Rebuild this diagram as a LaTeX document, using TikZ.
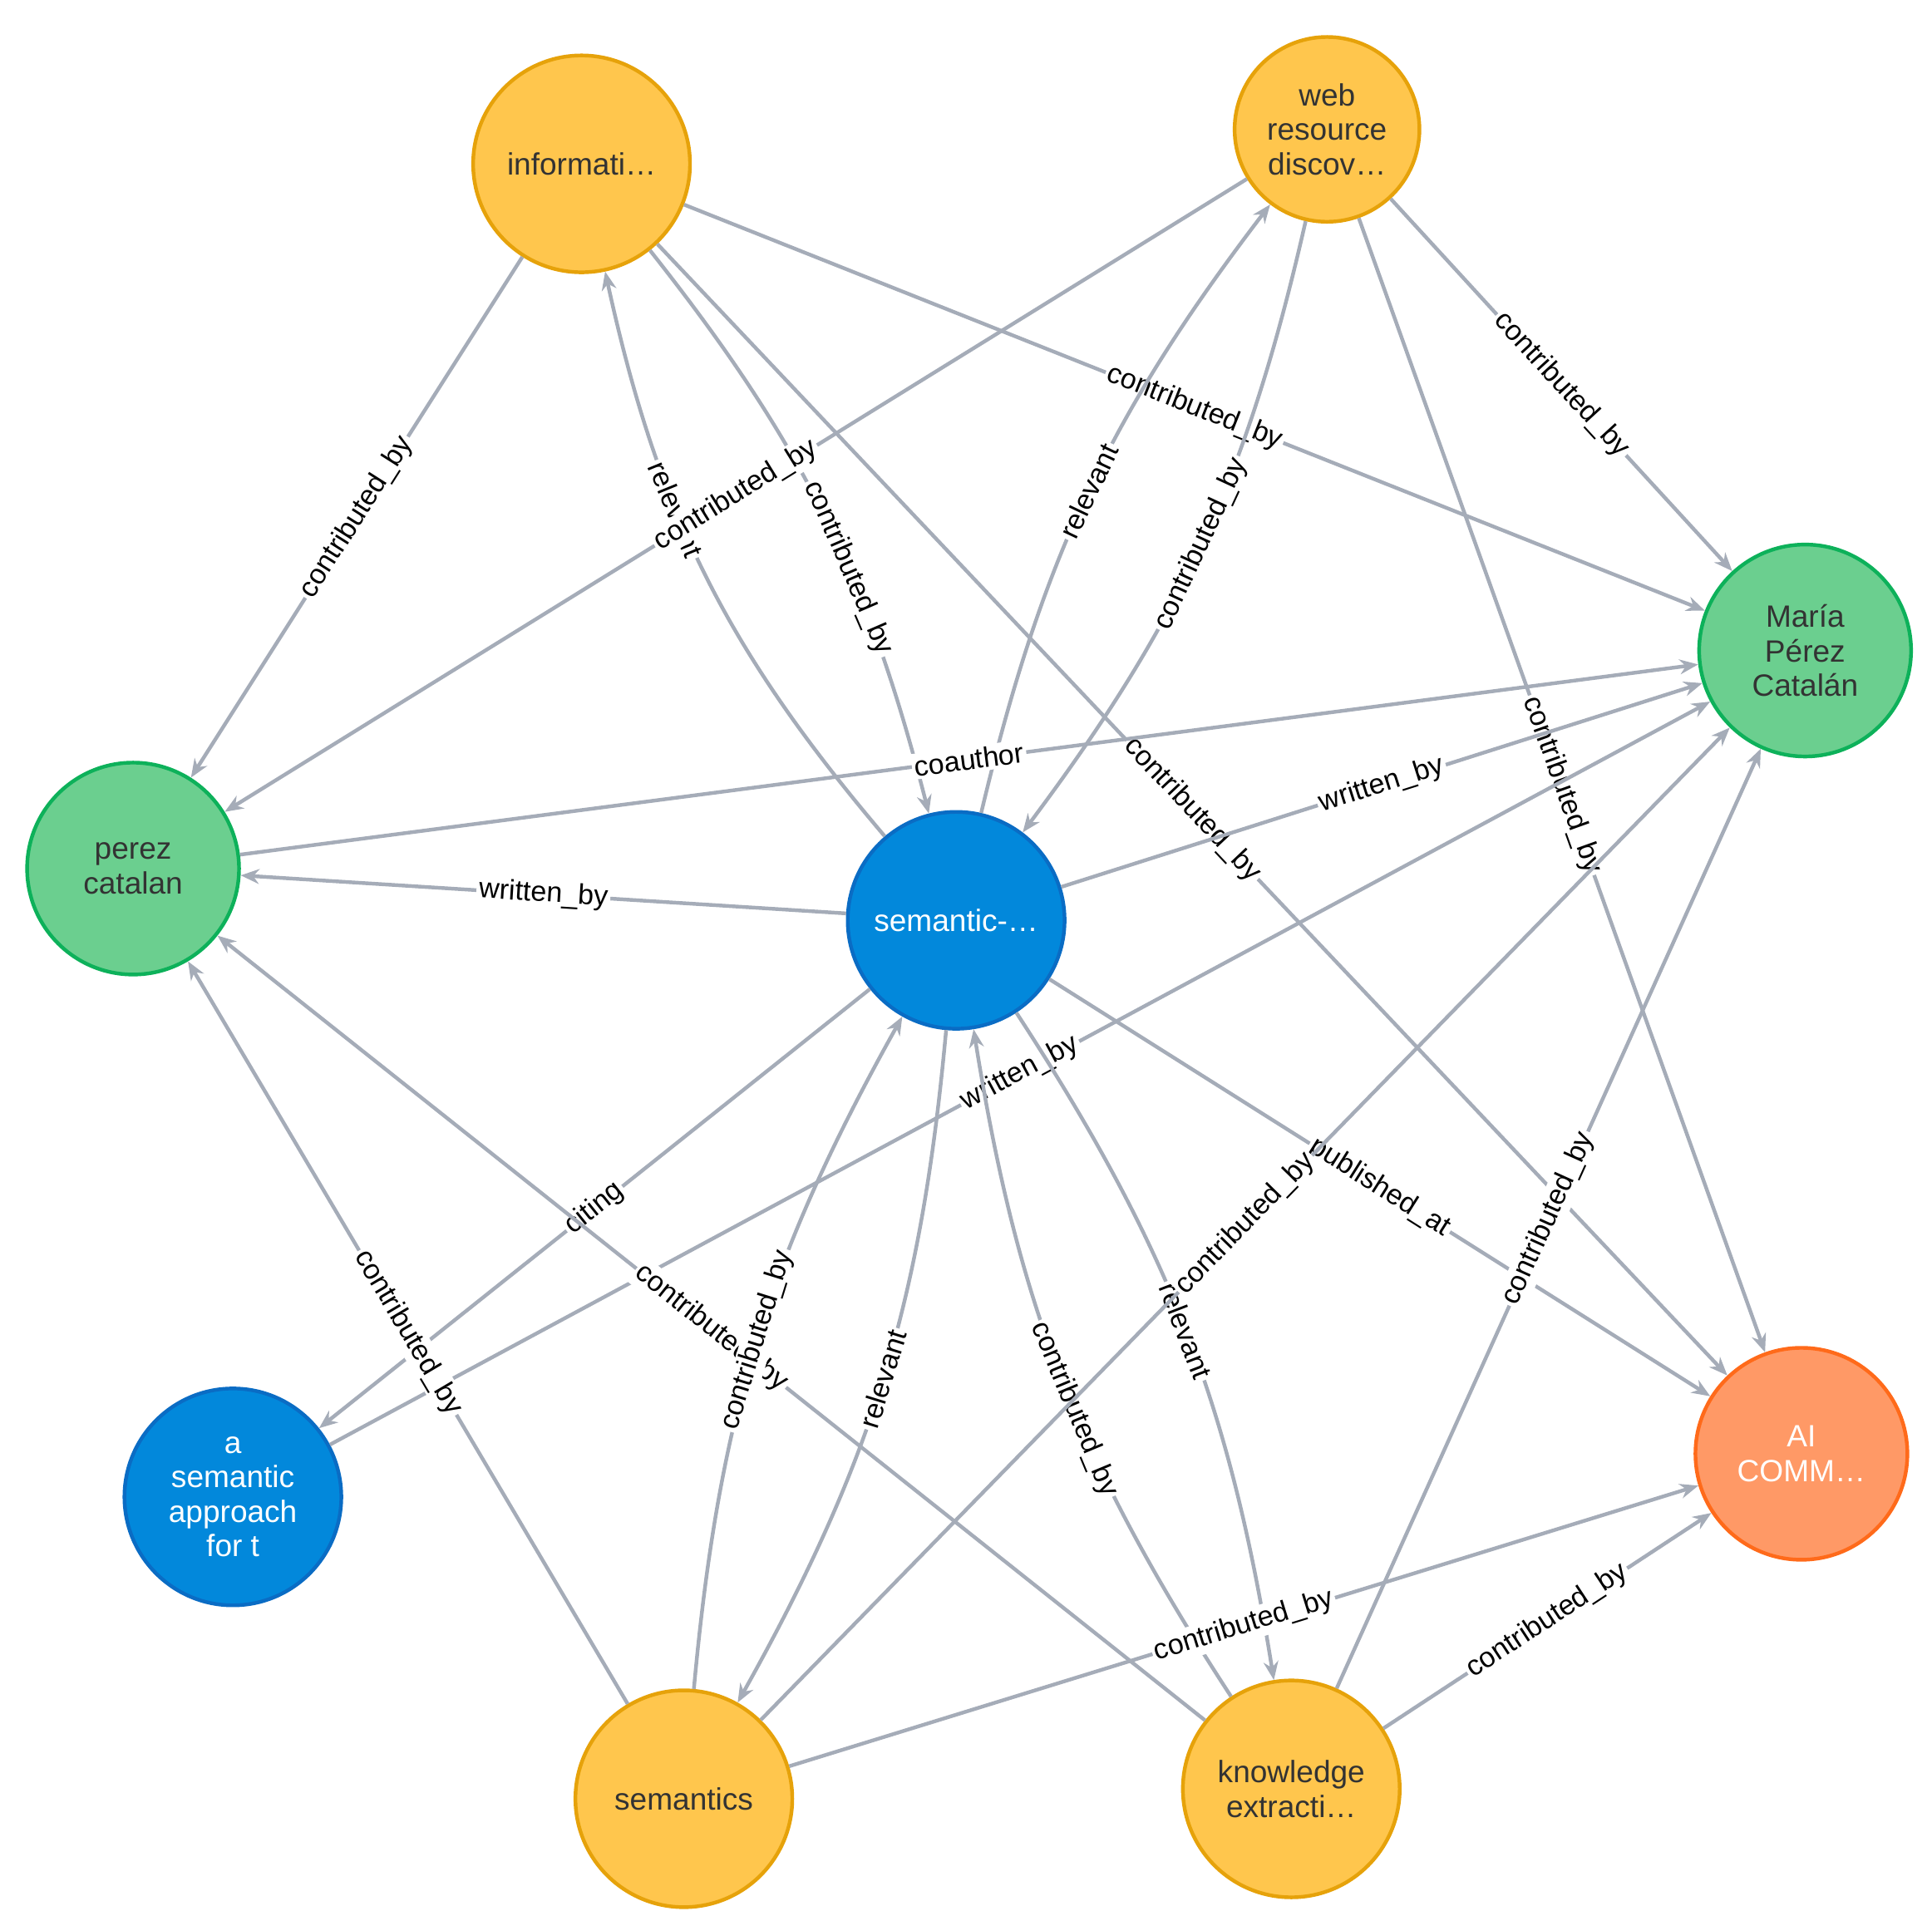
\documentclass[tikz,border=0pt]{standalone}
\usepackage{fontspec}
\setmainfont{Liberation Sans}
\usetikzlibrary{arrows.meta}
\definecolor{ey}{HTML}{FFC64D}\definecolor{eyd}{HTML}{E6A20A}
\definecolor{gr}{HTML}{6BCF8F}\definecolor{grd}{HTML}{0DB15A}
\definecolor{bl}{HTML}{0288DB}\definecolor{bld}{HTML}{0A6CC4}
\definecolor{or}{HTML}{FF9966}\definecolor{ord}{HTML}{FF6A1A}
\definecolor{ed}{HTML}{A5ACB8}\definecolor{tx}{HTML}{333333}
\begin{document}
\begin{tikzpicture}[x=1pt,y=-1pt,
 n/.style={circle,line width=3pt,align=center,font=\fontsize{25}{28}\selectfont,inner sep=0pt},
 yel/.style={n,fill=ey,draw=eyd,minimum size=176pt,text=tx},
 grn/.style={n,fill=gr,draw=grd,minimum size=172pt,text=tx},
 blu/.style={n,fill=bl,draw=bld,minimum size=176pt,text=white},
 org/.style={n,fill=or,draw=ord,minimum size=172pt,text=white},
 e/.style={draw=ed,line width=3pt,-{Stealth[length=15pt,width=12pt]}},
 l/.style={sloped,fill=white,inner sep=2pt,font=\fontsize{23}{25}\selectfont,text=black}]
\useasboundingbox (0,0) rectangle (1568,1551);
\node[yel] (inf) at (472,133) {informati…};
\node[yel,minimum size=150pt] (web) at (1077,105) {web\\resource\\discov…};
\node[grn] (mar) at (1465,528) {María\\Pérez\\Catalán};
\node[grn] (per) at (108,705) {perez\\catalan};
\node[blu] (sem) at (776,747) {semantic-…};
\node[blu] (app) at (189,1215) {a\\semantic\\approach\\for t};
\node[org] (ai) at (1462,1180) {AI\\COMM…};
\node[yel] (sms) at (555,1460) {semantics};
\node[yel] (kno) at (1048,1452) {knowledge\\extracti…};
\path[e] (inf) -- node[l]{contributed\_by} (per);
\path[e] (inf) -- node[l]{contributed\_by} (mar);
\path[e] (inf) to[bend left=12] node[l,pos=.6]{contributed\_by} (sem);
\path[e] (inf) -- node[l]{contributed\_by} (ai);
\path[e] (sem) to[bend left=14] node[l,pos=.62]{relevant} (inf);
\path[e] (web) -- node[l]{contributed\_by} (per);
\path[e] (sem) to[bend left=12] node[l]{relevant} (web);
\path[e] (web) to[bend left=12] node[l]{contributed\_by} (sem);
\path[e] (web) -- node[l]{contributed\_by} (mar);
\path[e] (web) -- node[l]{contributed\_by} (ai);
\path[e] (per) -- node[l]{coauthor} (mar);
\path[e] (sem) -- node[l]{written\_by} (per);
\path[e] (sem) -- node[l]{written\_by} (mar);
\path[e] (sem) -- node[l]{citing} (app);
\path[e] (app) -- node[l]{written\_by} (mar);
\path[e] (sem) -- node[l]{published\_at} (ai);
\path[e] (sms) -- node[l]{contributed\_by} (per);
\path[e] (kno) -- node[l]{contributed\_by} (per);
\path[e] (sms) to[bend left=12] node[l]{contributed\_by} (sem);
\path[e] (sem) to[bend left=12] node[l]{relevant} (sms);
\path[e] (kno) to[bend left=12] node[l,pos=.45]{contributed\_by} (sem);
\path[e] (sem) to[bend left=12] node[l]{relevant} (kno);
\path[e] (sms) -- node[l]{contributed\_by} (mar);
\path[e] (sms) -- node[l]{contributed\_by} (ai);
\path[e] (kno) -- node[l]{contributed\_by} (mar);
\path[e] (kno) -- node[l]{contributed\_by} (ai);
\end{tikzpicture}
\end{document}
